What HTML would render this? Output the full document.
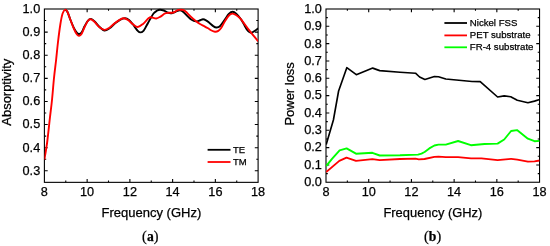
<!DOCTYPE html>
<html><head><meta charset="utf-8"><title>Figure</title>
<style>html,body{margin:0;padding:0;background:#fff;}svg{display:block;}text{font-family:"Liberation Sans",sans-serif;fill:#000;stroke:#000;stroke-width:0.25px;}.cap{font-family:"Liberation Serif",serif;font-weight:bold;}</style></head><body>
<svg width="550" height="246" viewBox="0 0 550 246">
<rect width="550" height="246" fill="#fff"/>
<defs>
<clipPath id="ca"><rect x="44.4" y="8.0" width="213.70000000000002" height="174.35"/></clipPath>
<clipPath id="cb"><rect x="326.0" y="8.0" width="213.54999999999995" height="174.25"/></clipPath>
</defs>
<g id="chart-a">
<g stroke="#000" stroke-width="1.1" fill="none" stroke-linecap="butt">
<path d="M65.77,182.35v-1.8M65.77,9.00v1.8M87.14,182.35v-3.3M87.14,9.00v3.3M108.51,182.35v-1.8M108.51,9.00v1.8M129.88,182.35v-3.3M129.88,9.00v3.3M151.25,182.35v-1.8M151.25,9.00v1.8M172.62,182.35v-3.3M172.62,9.00v3.3M193.99,182.35v-1.8M193.99,9.00v1.8M215.36,182.35v-3.3M215.36,9.00v3.3M236.73,182.35v-1.8M236.73,9.00v1.8M44.40,170.79h3.3M258.10,170.79h-3.3M44.40,159.24h1.8M258.10,159.24h-1.8M44.40,147.68h3.3M258.10,147.68h-3.3M44.40,136.12h1.8M258.10,136.12h-1.8M44.40,124.57h3.3M258.10,124.57h-3.3M44.40,113.01h1.8M258.10,113.01h-1.8M44.40,101.45h3.3M258.10,101.45h-3.3M44.40,89.90h1.8M258.10,89.90h-1.8M44.40,78.34h3.3M258.10,78.34h-3.3M44.40,66.78h1.8M258.10,66.78h-1.8M44.40,55.23h3.3M258.10,55.23h-3.3M44.40,43.67h1.8M258.10,43.67h-1.8M44.40,32.11h3.3M258.10,32.11h-3.3M44.40,20.56h1.8M258.10,20.56h-1.8"/>
<rect x="44.40" y="9.00" width="213.70" height="173.35"/>
</g>
<g font-size="12.7" text-anchor="middle">
<text x="44.4" y="195.8">8</text>
<text x="87.1" y="195.8">10</text>
<text x="129.9" y="195.8">12</text>
<text x="172.6" y="195.8">14</text>
<text x="215.4" y="195.8">16</text>
<text x="258.1" y="195.8">18</text>
</g>
<g font-size="12.7" text-anchor="end">
<text x="40.2" y="174.6">0.3</text>
<text x="40.2" y="151.5">0.4</text>
<text x="40.2" y="128.4">0.5</text>
<text x="40.2" y="105.3">0.6</text>
<text x="40.2" y="82.1">0.7</text>
<text x="40.2" y="59.0">0.8</text>
<text x="40.2" y="35.9">0.9</text>
<text x="40.2" y="12.8">1.0</text>
</g>
<g fill="none" stroke-width="1.9" stroke-linejoin="round" stroke-linecap="butt" clip-path="url(#ca)">
<path stroke="#000" d="M65.30,9.70 C65.67,10.08 66.63,10.28 67.50,12.00 C68.37,13.72 69.42,17.30 70.50,20.00 C71.58,22.70 72.92,26.03 74.00,28.20 C75.08,30.37 76.15,32.03 77.00,33.00 C77.85,33.97 78.35,34.07 79.10,34.00 C79.85,33.93 80.58,33.88 81.50,32.60 C82.42,31.32 83.55,28.27 84.60,26.30 C85.65,24.33 86.75,22.03 87.80,20.80 C88.85,19.57 89.75,18.78 90.90,18.90 C92.05,19.02 93.25,20.15 94.70,21.50 C96.15,22.85 97.97,25.50 99.60,27.00 C101.23,28.50 102.85,30.28 104.50,30.50 C106.15,30.72 107.80,29.43 109.50,28.30 C111.20,27.17 112.95,25.12 114.70,23.70 C116.45,22.28 118.28,20.70 120.00,19.80 C121.72,18.90 123.50,18.27 125.00,18.30 C126.50,18.33 127.67,18.97 129.00,20.00 C130.33,21.03 131.67,22.83 133.00,24.50 C134.33,26.17 135.83,28.68 137.00,30.00 C138.17,31.32 138.92,32.27 140.00,32.40 C141.08,32.53 142.40,31.95 143.50,30.80 C144.60,29.65 145.53,27.37 146.60,25.50 C147.67,23.63 148.75,21.60 149.90,19.60 C151.05,17.60 152.35,14.97 153.50,13.50 C154.65,12.03 155.72,11.43 156.80,10.80 C157.88,10.17 158.83,9.75 160.00,9.70 C161.17,9.65 162.58,10.07 163.80,10.50 C165.02,10.93 166.17,11.82 167.30,12.30 C168.43,12.78 169.32,13.45 170.60,13.40 C171.88,13.35 173.43,12.53 175.00,12.00 C176.57,11.47 178.57,10.17 180.00,10.20 C181.43,10.23 182.37,11.22 183.60,12.20 C184.83,13.18 186.07,14.83 187.40,16.10 C188.73,17.37 190.20,18.92 191.60,19.80 C193.00,20.68 194.47,21.28 195.80,21.40 C197.13,21.52 198.40,20.85 199.60,20.50 C200.80,20.15 201.93,19.33 203.00,19.30 C204.07,19.27 204.92,19.70 206.00,20.30 C207.08,20.90 208.30,21.93 209.50,22.90 C210.70,23.87 212.03,25.33 213.20,26.10 C214.37,26.87 215.38,27.47 216.50,27.50 C217.62,27.53 218.53,27.58 219.90,26.30 C221.27,25.02 223.22,21.85 224.70,19.80 C226.18,17.75 227.47,15.33 228.80,14.00 C230.13,12.67 231.42,11.80 232.70,11.80 C233.98,11.80 235.18,12.83 236.50,14.00 C237.82,15.17 239.43,17.22 240.60,18.80 C241.77,20.38 242.55,21.87 243.50,23.50 C244.45,25.13 245.38,27.22 246.30,28.60 C247.22,29.98 248.18,31.12 249.00,31.80 C249.82,32.48 250.28,32.83 251.20,32.70 C252.12,32.57 253.32,31.75 254.50,31.00 C255.68,30.25 257.67,28.67 258.30,28.20"/>
<path stroke="#f00" d="M44.40,159.50 C44.87,156.58 46.28,148.92 47.20,142.00 C48.12,135.08 49.10,125.00 49.90,118.00 C50.70,111.00 51.32,106.67 52.00,100.00 C52.68,93.33 53.32,84.67 54.00,78.00 C54.68,71.33 55.43,66.00 56.10,60.00 C56.77,54.00 57.28,48.00 58.00,42.00 C58.72,36.00 59.63,28.75 60.40,24.00 C61.17,19.25 61.78,15.88 62.60,13.50 C63.42,11.12 64.48,9.95 65.30,9.70 C66.12,9.45 66.63,10.28 67.50,12.00 C68.37,13.72 69.42,17.17 70.50,20.00 C71.58,22.83 72.92,26.58 74.00,29.00 C75.08,31.42 76.15,33.38 77.00,34.50 C77.85,35.62 78.35,35.78 79.10,35.70 C79.85,35.62 80.58,35.45 81.50,34.00 C82.42,32.55 83.55,29.17 84.60,27.00 C85.65,24.83 86.80,22.30 87.80,21.00 C88.80,19.70 89.53,19.12 90.60,19.20 C91.67,19.28 92.77,20.20 94.20,21.50 C95.63,22.80 97.48,25.60 99.20,27.00 C100.92,28.40 102.78,29.78 104.50,29.90 C106.22,30.02 107.80,28.82 109.50,27.70 C111.20,26.58 112.95,24.55 114.70,23.20 C116.45,21.85 118.47,20.42 120.00,19.60 C121.53,18.78 122.57,18.23 123.90,18.30 C125.23,18.37 126.48,19.00 128.00,20.00 C129.52,21.00 131.37,23.13 133.00,24.30 C134.63,25.47 136.13,27.07 137.80,27.00 C139.47,26.93 141.22,25.35 143.00,23.90 C144.78,22.45 147.12,19.40 148.50,18.30 C149.88,17.20 150.00,17.27 151.30,17.30 C152.60,17.33 154.77,18.62 156.30,18.50 C157.83,18.38 159.05,17.45 160.50,16.60 C161.95,15.75 163.58,14.03 165.00,13.40 C166.42,12.77 167.60,12.95 169.00,12.80 C170.40,12.65 172.18,12.83 173.40,12.50 C174.62,12.17 175.45,11.23 176.30,10.80 C177.15,10.37 177.72,10.08 178.50,9.90 C179.28,9.72 180.15,9.67 181.00,9.70 C181.85,9.73 182.68,9.67 183.60,10.10 C184.52,10.53 185.55,11.45 186.50,12.30 C187.45,13.15 188.22,14.15 189.30,15.20 C190.38,16.25 191.77,17.50 193.00,18.60 C194.23,19.70 195.53,20.90 196.70,21.80 C197.87,22.70 198.70,23.25 200.00,24.00 C201.30,24.75 203.17,25.58 204.50,26.30 C205.83,27.02 206.83,27.60 208.00,28.30 C209.17,29.00 210.33,29.93 211.50,30.50 C212.67,31.07 213.87,31.63 215.00,31.70 C216.13,31.77 217.25,31.55 218.30,30.90 C219.35,30.25 220.20,29.42 221.30,27.80 C222.40,26.18 223.78,23.07 224.90,21.20 C226.02,19.33 227.07,17.75 228.00,16.60 C228.93,15.45 229.70,14.80 230.50,14.30 C231.30,13.80 231.88,13.48 232.80,13.60 C233.72,13.72 234.70,14.13 236.00,15.00 C237.30,15.87 238.48,16.37 240.60,18.80 C242.72,21.23 246.55,26.80 248.70,29.60 C250.85,32.40 251.90,33.63 253.50,35.60 C255.10,37.57 257.50,40.43 258.30,41.40"/>
</g>
<text font-size="12.3" text-anchor="middle" transform="translate(11.45,92.2) rotate(-90)" textLength="67" lengthAdjust="spacingAndGlyphs">Absorptivity</text>
<text font-size="12.7" text-anchor="middle" x="151.4" y="216.55" textLength="99.8" lengthAdjust="spacingAndGlyphs">Frequency (GHz)</text>
<text class="cap" font-size="13.6" text-anchor="middle" x="150.4" y="240.5" letter-spacing="0.1"><tspan font-weight="normal" font-size="14.2">(</tspan>a<tspan font-weight="normal" font-size="14.2">)</tspan></text>
<g stroke-width="1.8" fill="none"><path stroke="#000" d="M207.6,149.8H230.5"/><path stroke="#f00" d="M207.6,162H230.5"/></g>
<g font-size="9.5"><text x="233" y="153">TE</text><text x="233" y="165.2">TM</text></g>
</g>
<g id="chart-b">
<g stroke="#000" stroke-width="1.1" fill="none" stroke-linecap="butt">
<path d="M347.36,182.25v-1.8M347.36,9.00v1.8M368.71,182.25v-3.3M368.71,9.00v3.3M390.06,182.25v-1.8M390.06,9.00v1.8M411.42,182.25v-3.3M411.42,9.00v3.3M432.77,182.25v-1.8M432.77,9.00v1.8M454.13,182.25v-3.3M454.13,9.00v3.3M475.49,182.25v-1.8M475.49,9.00v1.8M496.84,182.25v-3.3M496.84,9.00v3.3M518.19,182.25v-1.8M518.19,9.00v1.8M326.00,173.59h1.8M539.55,173.59h-1.8M326.00,164.93h3.3M539.55,164.93h-3.3M326.00,156.26h1.8M539.55,156.26h-1.8M326.00,147.60h3.3M539.55,147.60h-3.3M326.00,138.94h1.8M539.55,138.94h-1.8M326.00,130.27h3.3M539.55,130.27h-3.3M326.00,121.61h1.8M539.55,121.61h-1.8M326.00,112.95h3.3M539.55,112.95h-3.3M326.00,104.29h1.8M539.55,104.29h-1.8M326.00,95.62h3.3M539.55,95.62h-3.3M326.00,86.96h1.8M539.55,86.96h-1.8M326.00,78.30h3.3M539.55,78.30h-3.3M326.00,69.64h1.8M539.55,69.64h-1.8M326.00,60.97h3.3M539.55,60.97h-3.3M326.00,52.31h1.8M539.55,52.31h-1.8M326.00,43.65h3.3M539.55,43.65h-3.3M326.00,34.99h1.8M539.55,34.99h-1.8M326.00,26.32h3.3M539.55,26.32h-3.3M326.00,17.66h1.8M539.55,17.66h-1.8"/>
<rect x="326.00" y="9.00" width="213.55" height="173.25"/>
</g>
<g font-size="12.7" text-anchor="middle">
<text x="326.0" y="195.8">8</text>
<text x="368.7" y="195.8">10</text>
<text x="411.4" y="195.8">12</text>
<text x="454.1" y="195.8">14</text>
<text x="496.8" y="195.8">16</text>
<text x="539.5" y="195.8">18</text>
</g>
<g font-size="12.7" text-anchor="end">
<text x="321.8" y="186.1">0.0</text>
<text x="321.8" y="168.7">0.1</text>
<text x="321.8" y="151.4">0.2</text>
<text x="321.8" y="134.1">0.3</text>
<text x="321.8" y="116.8">0.4</text>
<text x="321.8" y="99.4">0.5</text>
<text x="321.8" y="82.1">0.6</text>
<text x="321.8" y="64.8">0.7</text>
<text x="321.8" y="47.5">0.8</text>
<text x="321.8" y="30.1">0.9</text>
<text x="321.8" y="12.8">1.0</text>
</g>
<g fill="none" stroke-width="1.65" stroke-linejoin="round" stroke-linecap="butt" clip-path="url(#cb)">
<polyline stroke="#f00" stroke-width="1.85" points="326.2,172.0 339.3,160.9 346.5,157.6 356.0,160.9 372.4,159.2 379.7,160.2 400.0,159.0 415.5,158.6 418.8,159.4 424.5,159.0 434.4,156.8 438.5,156.6 445.8,157.1 458.1,157.1 471.0,158.4 481.5,158.4 497.6,160.1 511.1,158.8 517.3,159.6 527.9,161.6 534.5,161.3 539.7,160.5"/>
<polyline stroke="#0f0" stroke-width="1.9" points="326.2,166.1 332.0,158.8 339.6,150.4 346.6,148.4 356.0,153.7 372.4,152.8 379.7,155.5 400.0,155.3 418.0,154.6 421.5,153.6 424.6,152.0 429.3,148.4 434.4,145.5 438.5,144.6 445.8,144.6 458.1,141.0 470.9,145.2 484.5,144.0 497.6,143.6 504.2,139.5 511.1,131.0 517.0,130.1 527.9,138.7 534.5,141.2 539.7,140.9"/>
<polyline stroke="#000" points="326.2,144.5 333.4,120.0 338.6,91.0 346.8,67.7 356.3,74.7 372.7,68.1 379.7,70.6 400.0,72.2 415.5,73.2 419.6,77.0 424.9,79.5 434.4,76.5 438.5,76.7 445.8,79.0 472.0,81.5 480.2,81.6 497.6,97.0 504.2,95.9 510.7,96.7 517.3,100.3 527.9,102.7 534.5,101.1 539.7,99.5"/>
</g>
<text font-size="12.1" text-anchor="middle" transform="translate(293.8,93.9) rotate(-90)" textLength="63.4" lengthAdjust="spacingAndGlyphs">Power loss</text>
<text font-size="12.7" text-anchor="middle" x="432.9" y="216.55" textLength="98.9" lengthAdjust="spacingAndGlyphs">Frequency (GHz)</text>
<text class="cap" font-size="13.6" text-anchor="middle" x="432.7" y="240.5" letter-spacing="0.1"><tspan font-weight="normal" font-size="14.2">(</tspan>b<tspan font-weight="normal" font-size="14.2">)</tspan></text>
<g stroke-width="1.8" fill="none"><path stroke="#000" d="M444.4,23.0H467"/><path stroke="#f00" d="M444.4,35.4H467"/><path stroke="#0f0" d="M444.4,47.3H467"/></g>
<g font-size="9.65"><text x="469.8" y="26.1">Nickel FSS</text><text x="469.8" y="38.0">PET substrate</text><text x="469.8" y="49.8">FR-4 substrate</text></g>
</g>
</svg></body></html>
